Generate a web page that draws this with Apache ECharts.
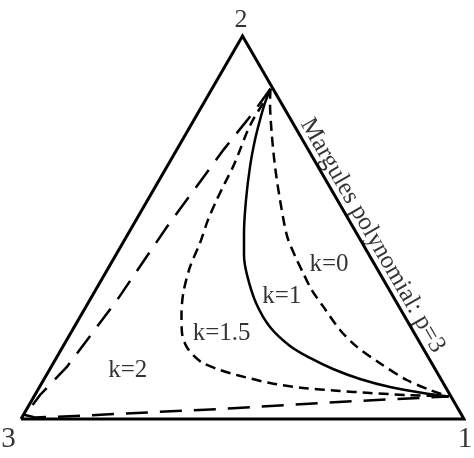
<!DOCTYPE html>
<html>
<head>
<meta charset="utf-8">
<script src="https://cdn.jsdelivr.net/npm/echarts@6/dist/echarts.min.js"></script>
<style>
html,body{margin:0;padding:0;background:#fff;}
#c{width:474px;height:458px;}
</style>
</head>
<body>
<div id="c"></div>
<script>
// Cartesian coordinates inside an equilateral triangle: vertex 3 at (0,0), vertex 1 at (1,0), vertex 2 at (0.5, sqrt(3)/2)
var H = Math.sqrt(3) / 2;
var triangle = [[0, 0], [1, 0], [0.5, H], [0, 0]];

var curveK0 = [
  [0.5632, 0.7466], [0.5621, 0.7149], [0.5659, 0.6464], [0.5734, 0.5708], [0.5847, 0.4955],
  [0.6005, 0.4140], [0.6185, 0.3688], [0.6372, 0.3296], [0.6562, 0.2919], [0.6824, 0.2541],
  [0.7201, 0.2014], [0.7578, 0.1636], [0.8104, 0.1260], [0.8707, 0.0882], [0.9233, 0.0656],
  [0.9650, 0.0509]
];

var curveK1 = [
  [0.5632, 0.7466], [0.5508, 0.7149], [0.5395, 0.6765], [0.5282, 0.6312], [0.5169, 0.5701],
  [0.5079, 0.4955], [0.5034, 0.4208], [0.5034, 0.3710], [0.5102, 0.3258], [0.5305, 0.2624],
  [0.5621, 0.2081], [0.6072, 0.1652], [0.6524, 0.1380], [0.7043, 0.1131], [0.7652, 0.0905],
  [0.8330, 0.0724], [0.9074, 0.0588], [0.9650, 0.0509]
];

var curveK15 = [
  [0.5632, 0.7466], [0.5440, 0.7104], [0.5237, 0.6765], [0.5095, 0.6471], [0.4944, 0.6086],
  [0.4786, 0.5701], [0.4605, 0.5339], [0.4418, 0.4955], [0.4221, 0.4502], [0.4041, 0.3982],
  [0.3815, 0.3439], [0.3664, 0.2851], [0.3623, 0.2353], [0.3634, 0.1946], [0.3740, 0.1629],
  [0.3928, 0.1403], [0.4115, 0.1260], [0.4492, 0.1109], [0.4869, 0.0995], [0.5621, 0.0814],
  [0.6366, 0.0701], [0.7133, 0.0640], [0.7878, 0.0588], [0.8707, 0.0543], [0.9650, 0.0509]
];

var curveK2 = [
  [0.5632, 0.7466], [0.5260, 0.6952], [0.4570, 0.6086], [0.3300, 0.4351], [0.2170, 0.2692],
  [0.1040, 0.1183], [0.0429, 0.0543], [0.0090, 0.0090], [0.0316, 0.0034], [0.1219, 0.0068],
  [0.4786, 0.0242], [0.7578, 0.0407], [0.9650, 0.0509]
];

var curveLabels = ['k=0', 'k=1', 'k=1.5', 'k=2'];
var curveLabelPos = [[0.6953, 0.3484], [0.5885, 0.2767], [0.4530, 0.1939], [0.2409, 0.1109]];
var vertexLabels = ['2', '3', '1'];
var vertexLabelPos = [[0.4966, 0.9027], [-0.0282, -0.0452], [1.0023, -0.0452]];
var edgeLabel = 'Margules polynomial: p=3';
var edgeLabelPos = [0.7935, 0.4149];

var FONT = '"Liberation Serif", "DejaVu Serif", serif';

var textData = [];
curveLabels.forEach(function (t, i) {
  textData.push({ value: curveLabelPos[i], label: { formatter: t, fontSize: 25 } });
});
vertexLabels.forEach(function (t, i) {
  textData.push({ value: vertexLabelPos[i], label: { formatter: t, fontSize: i === 0 ? 26 : 29 } });
});
textData.push({ value: edgeLabelPos, label: { formatter: edgeLabel, fontSize: 25, rotate: -60 } });

function lineSeries(data, type, width, smooth) {
  return {
    type: 'line',
    data: data,
    symbol: 'none',
    smooth: smooth,
    clip: false,
    silent: true,
    lineStyle: { color: '#000', width: width, type: type, join: 'miter', cap: 'butt' }
  };
}

var chart = echarts.init(document.getElementById('c'), null, { renderer: 'canvas' });
chart.setOption({
  backgroundColor: '#fff',
  animation: false,
  grid: { left: 21, right: 10, top: 36, bottom: 39 },
  xAxis: { type: 'value', min: 0, max: 1, show: false },
  yAxis: { type: 'value', min: 0, max: H, show: false },
  series: [
    lineSeries(triangle, 'solid', 3, false),
    lineSeries(curveK0, [10, 6], 2.5, 0.3),
    lineSeries(curveK1, 'solid', 2.5, 0.3),
    lineSeries(curveK15, [10, 6], 2.5, 0.3),
    lineSeries(curveK2, [22, 12], 2.5, false),
    {
      type: 'scatter',
      symbolSize: 0,
      clip: false,
      silent: true,
      data: textData,
      label: {
        show: true,
        position: 'inside',
        color: '#000',
        fontFamily: FONT
      }
    }
  ]
});
</script>
</body>
</html>
